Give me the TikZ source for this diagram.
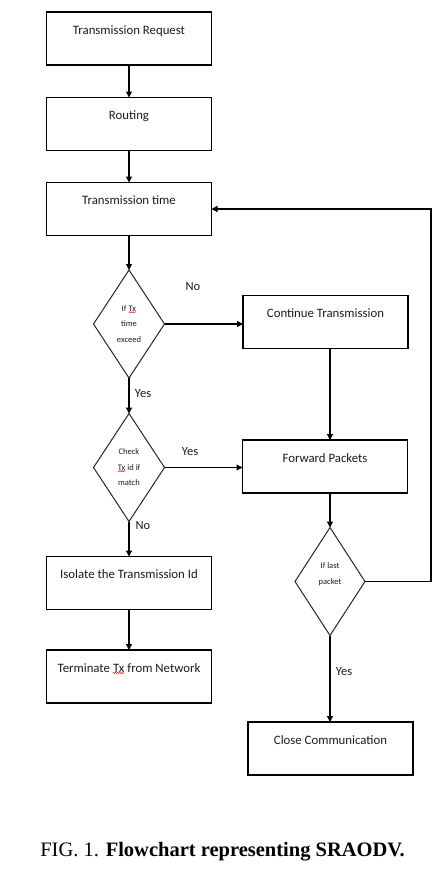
\documentclass[tikz,border=0pt]{standalone}
\usepackage{fontspec}
\setmainfont{Carlito}
\newfontfamily\capfont{Liberation Serif}
\usetikzlibrary{shapes.geometric,arrows.meta,decorations.pathmorphing}
\definecolor{txtcol}{HTML}{1A1A28}
\newcommand{\sqtx}[1]{\tikz[baseline=(w.base)]{\node[shape=rectangle,inner sep=0pt,outer sep=0pt,draw=none,minimum width=0pt,minimum height=0pt,text height=,text depth=,align=left](w){#1};\draw[red,line width=0.4pt,decorate,decoration={snake,amplitude=0.6pt,segment length=2pt}]([yshift=-0.9pt]w.south west)--([yshift=-0.9pt]w.south east);}}
\begin{document}
\begin{tikzpicture}[x=1pt,y=-1pt,line width=1.2pt,
  box/.style={draw,rectangle,minimum width=165pt,inner xsep=2pt,inner ysep=0pt,
    text height=22pt,text depth=31pt,outer sep=0pt,text=txtcol,
    font=\fontsize{12.8}{14}\selectfont},
  dia/.style={draw=black!85,line width=1pt,diamond,minimum width=71pt,minimum height=108pt,inner sep=0pt,
    outer sep=0pt,align=center,text=txtcol,font=\fontsize{8.5}{15.5}\selectfont},
  arr/.style={-{Triangle[length=6pt,width=6pt]}},
  lbl/.style={inner sep=0pt,text=txtcol,font=\fontsize{12.5}{14}\selectfont}]
\useasboundingbox (0,0) rectangle (446,879);
% left column
\node[box] (tr) at (129,38.5) {Transmission Request};
\node[box] (rt) at (129,124) {Routing};
\node[box] (tt) at (129,209) {Transmission time};
\node[dia] (d1) at (129,324) {If \sqtx{Tx}\\time\\exceed};
\node[dia] (d2) at (129,467.5) {Check\\\sqtx{Tx} id if\\match};
\node[box] (iso) at (129,583) {Isolate the Transmission Id};
\node[box] (term) at (129,676.5) {Terminate \sqtx{Tx} from Network};
% right column
\node[box] (ct) at (325.5,322) {Continue Transmission};
\node[box] (fp) at (325,466.5) {Forward Packets};
\node[dia,minimum width=70pt] (d3) at (330,581.5) {If last\\packet\\\mbox{}};
\node[box] (cc) at (330.5,748.5) {Close Communication};
\coordinate (fbc) at (431,209);
% connectors
\draw[arr] (tr.south) -- (rt.north);
\draw[arr] (rt.south) -- (tt.north);
\draw[arr] (tt.south) -- (d1.north);
\draw[arr] (d1.south) -- (d2.north);
\draw[arr] (d2.south) -- (iso.north);
\draw[arr] (iso.south) -- (term.north);
\draw[arr] (d1.east) -- (d1.east -| ct.west);
\draw[arr] (d2.east) -- (d2.east -| fp.west);
\draw[arr] (d3.north |- ct.south) -- (d3.north |- fp.north);
\draw[arr] (d3.north |- fp.south) -- (d3.north);
\draw[arr] (d3.south) -- (d3.south |- cc.north);
\draw[arr] (d3.east) -| (fbc) -- (tt.east);
% labels
\node[lbl] (l1) at (193,287) {No};
\node[lbl] (l2) at (143,394) {Yes};
\node[lbl] (l3) at (190,452) {Yes};
\node[lbl] (l4) at (143,526) {No};
\node[lbl] (l5) at (344,672) {Yes};
% caption
\node[inner sep=0pt,font=\capfont\fontsize{20.5}{24}\selectfont] (cap) at (222.5,852) {FIG. 1. \textbf{Flowchart representing SRAODV.}};
\end{tikzpicture}
\end{document}
